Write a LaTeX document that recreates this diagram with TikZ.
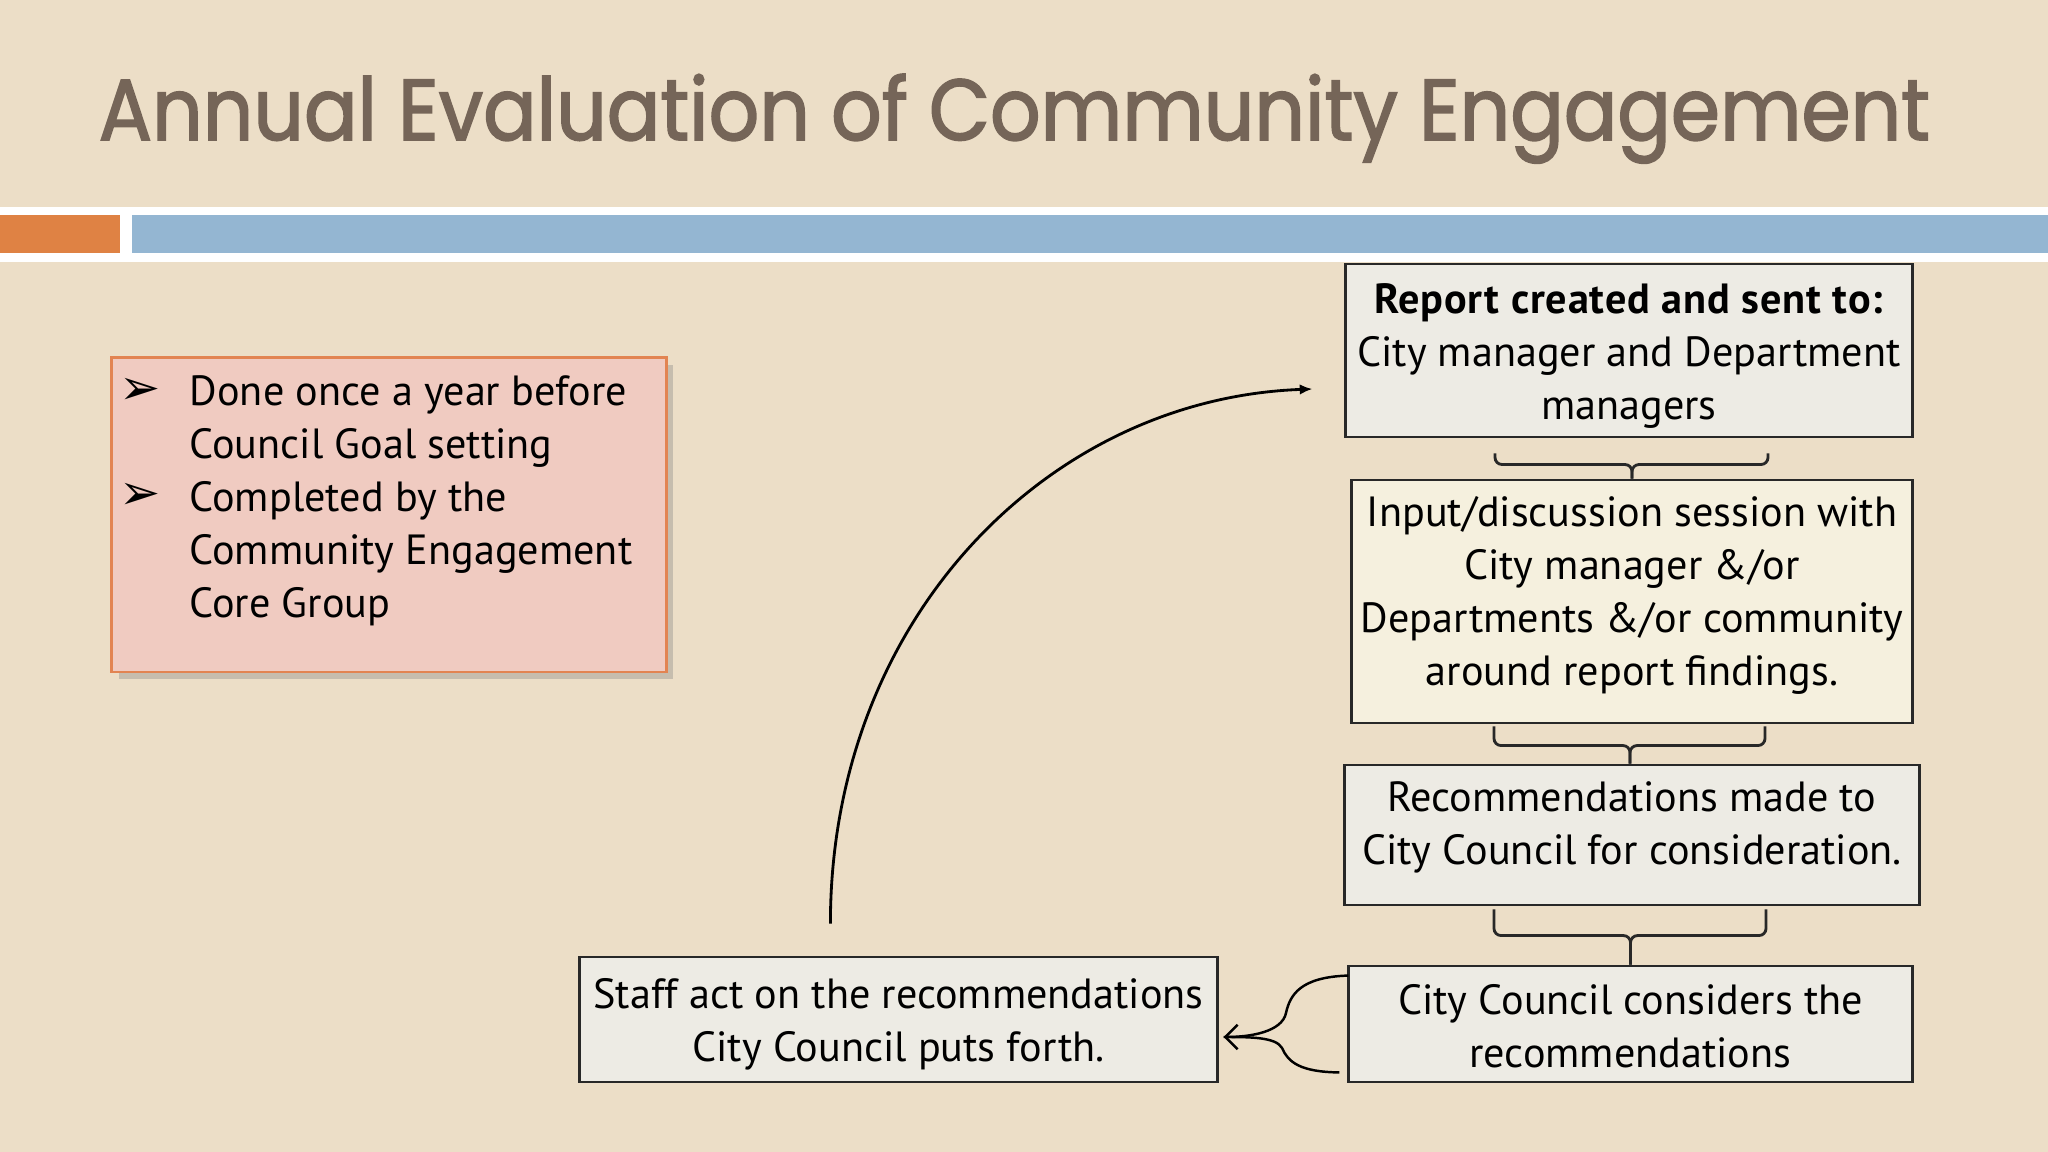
\documentclass[tikz,border=0pt]{standalone}
\usepackage{fontspec}
\usepackage{graphicx}
\setmainfont{PT Sans}
\newfontfamily\titlefont[FakeBold=2]{Poppins}
\newfontfamily\symfont{DejaVu Sans}
\usetikzlibrary{calc,arrows.meta,shadows}
\definecolor{bg}{RGB}{236,222,199}
\definecolor{titlecol}{RGB}{117,101,88}
\definecolor{orangebar}{RGB}{223,130,68}
\definecolor{bluebar}{RGB}{148,182,210}
\definecolor{pinkfill}{RGB}{240,203,193}
\definecolor{pinkline}{RGB}{226,132,82}
\definecolor{grayfill}{RGB}{237,235,228}
\definecolor{creamfill}{RGB}{245,240,222}
\definecolor{boxline}{RGB}{40,40,40}
\tikzset{
  flowbox/.style={draw=boxline, line width=0.8pt, fill=grayfill, inner sep=0pt},
  txt/.style={align=center, inner sep=0pt, font=\fontsize{12pt}{15.1pt}\selectfont},
  brk/.style={draw=boxline, line width=0.8pt, rounded corners=2pt},
  conn/.style={draw=black, line width=0.8pt},
  bullet/.style={inner sep=0pt, font=\symfont\fontsize{14pt}{16pt}\selectfont},
}
\begin{document}
\begin{tikzpicture}[x=0.01cm,y=-0.01cm]
\fill[bg] (0,0) rectangle (2048,1152);
\useasboundingbox (0,0) rectangle (2048,1152);
% bars
\fill[white] (0,207) rectangle (2048,262);
\fill[orangebar] (0,215) rectangle (120,253);
\fill[bluebar] (132,215) rectangle (2048,253);
% title
\node[anchor=base west, inner sep=0pt, text=titlecol] (title) at (98,140)
  {\resizebox{18.3cm}{0.66cm}{\titlefont Annual Evaluation of Community Engagement}};
% left box
\node[draw=pinkline, line width=0.8pt, fill=pinkfill, inner sep=0pt,
      minimum width=5.54cm, minimum height=3.14cm,
      drop shadow={shadow xshift=2pt, shadow yshift=-2pt, opacity=0.35}] (note) at (389,515) {};
\node[anchor=west, align=left, inner sep=0pt, font=\fontsize{12pt}{15.1pt}\selectfont] (notetext) at (189,501)
  {Done once a year before\\Council Goal setting\\Completed by the\\Community Engagement\\Core Group};
\node[bullet] (bul1) at (140,391) {➢};
\node[bullet] (bul2) at (140,496) {➢};
% flow boxes
\node[flowbox, minimum width=5.66cm, minimum height=1.73cm] (b1) at (1629,350.5) {};
\node[txt] (b1t) at (1629,356) {{\addfontfeatures{LetterSpace=2}\textbf{Report created and sent to:}}\\City manager and Department\\managers};
\node[flowbox, fill=creamfill, minimum width=5.60cm, minimum height=2.43cm] (b2) at (1632,601.5) {};
\node[txt] (b2t) at (1632,595.5) {Input/discussion session with\\City manager \&/or\\Departments \&/or community\\around report findings.};
\node[flowbox, minimum width=5.74cm, minimum height=1.40cm] (b3) at (1632,835) {};
\node[txt] (b3t) at (1632,827.5) {Recommendations made to\\City Council for consideration.};
\node[flowbox, minimum width=5.63cm, minimum height=1.16cm] (b4) at (1630.5,1024) {};
\node[txt] (b4t) at (1630.5,1026) {City Council considers the\\recommendations};
\node[flowbox, minimum width=6.37cm, minimum height=1.25cm] (staff) at (898.5,1019.5) {};
\node[txt] (stafft) at (898.5,1024) {Staff act on the recommendations\\City Council puts forth.};
% brackets
\draw[brk] ($(b1.south)+(-134,15)$) |- ($(b2.north)+(0,-14)$) -- (b2.north);
\draw[brk] ($(b1.south)+(139,15)$) |- ($(b2.north)+(0,-14)$) -- (b2.north);
\draw[brk] ($(b2.south)+(-138,2)$) |- ($(b3.north)+(-2,-18)$) -- ($(b3.north)+(-2,0)$);
\draw[brk] ($(b2.south)+(133,2)$) |- ($(b3.north)+(-2,-18)$) -- ($(b3.north)+(-2,0)$);
\draw[brk] ($(b3.south)+(-138,3)$) |- ($(b4.north)+(0,-29)$) -- (b4.north);
\draw[brk] ($(b3.south)+(134,3)$) |- ($(b4.north)+(0,-29)$) -- (b4.north);
% big arc back to the report box
\coordinate (arcS) at ($(staff.north west)+(252,-32)$);
\coordinate (arcE) at ($(b1.west)+(-32,38.5)$);
\draw[conn, -{Latex[length=3.6pt,width=3pt]}] (arcS) .. controls ($(arcS)+(0,-305)$) and ($(arcS)+(218,-525)$) .. (arcE);
% brace arrow from council box to staff box
\coordinate (bu) at ($(b4.north west)+(1,11)$);
\coordinate (bl) at ($(b4.south west)+(-8,-11)$);
\coordinate (bm1) at (1286,1013);
\coordinate (bm2) at (1282,1048);
\coordinate (tip) at ($(staff.east)+(5,17.5)$);
\draw[conn, line width=0.7pt] (bl) .. controls (1300,1072) and (1288,1062) .. (bm2) .. controls (1276,1037) and (1250,1037) .. (tip);
\draw[conn, line width=0.7pt, -{Straight Barb[length=3.5pt,width=7pt]}] (bu) .. controls (1300,977) and (1290,995) .. (bm1) .. controls (1282,1032) and (1250,1037) .. (tip);
\end{tikzpicture}
\end{document}
